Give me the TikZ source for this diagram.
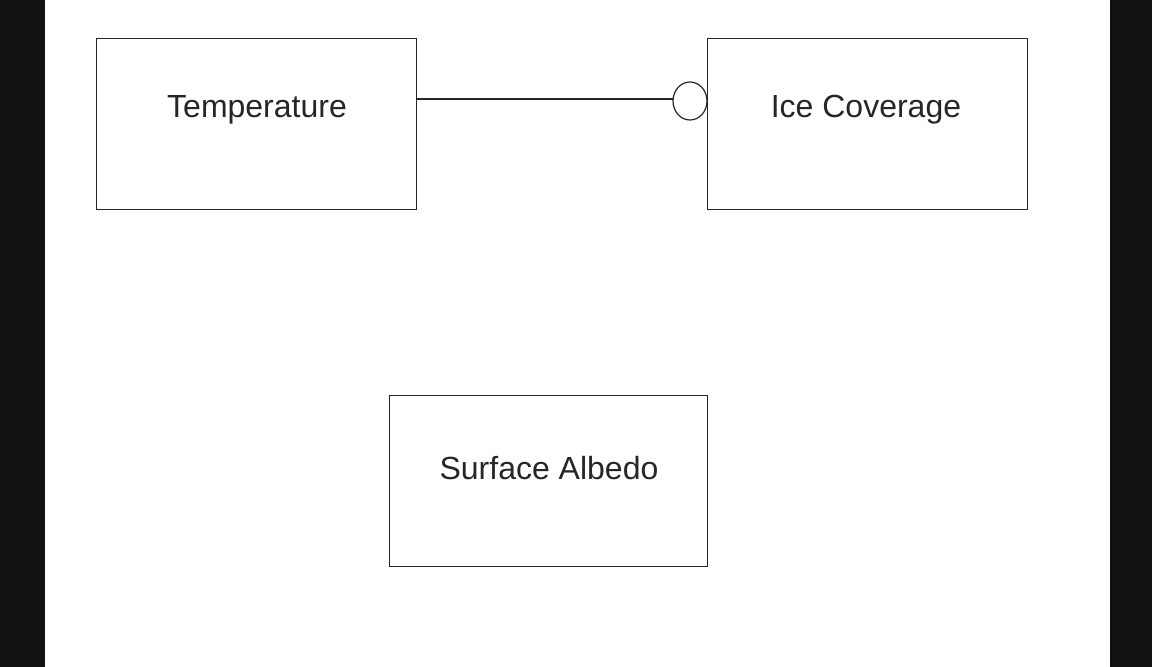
\documentclass[tikz,border=0pt]{standalone}
\usepackage{fontspec}
\setmainfont{Liberation Sans}
\begin{document}
\begin{tikzpicture}[x=1pt,y=-1pt,
  box/.style={draw=black!85,line width=1.2pt,minimum width=320pt,minimum height=171pt,anchor=north west,inner sep=0pt},
  lbl/.style={font=\fontsize{32}{36}\selectfont,text=black!85}]
\useasboundingbox (0,0) rectangle (1152,667);
\fill[black!93] (0,0) rectangle (45,667);
\fill[black!93] (1110,0) rectangle (1152,667);
\node[box] (t) at (96,38) {};
\node[box] (i) at (707,38) {};
\node[box,minimum width=318pt] (s) at (389,395) {};
\node[lbl] (tl) at (257,110) {Temperature};
\node[lbl] (il) at (866,110) {Ice Coverage};
\node[lbl] (sl) at (549,468) {Surface Albedo};
\coordinate (c) at (673,99);
\draw[line width=1.2pt,black!85] (t.east |- c) -- (c);
\draw[line width=1.2pt,black!85] (690,101) ellipse [x radius=17pt,y radius=19pt];
\end{tikzpicture}
\end{document}
